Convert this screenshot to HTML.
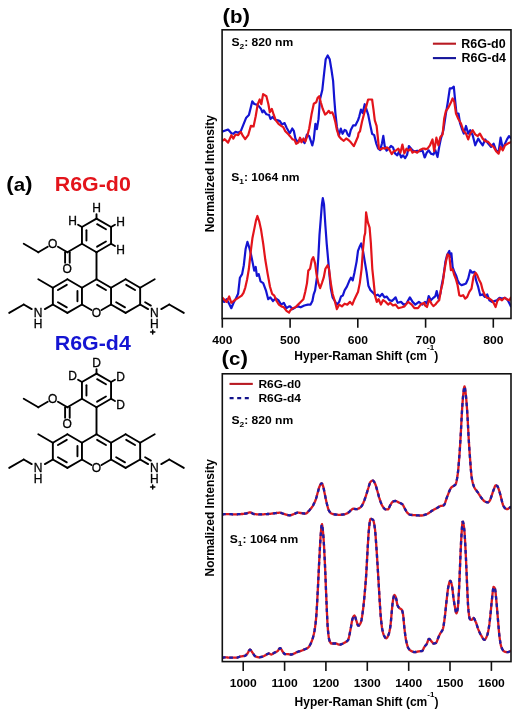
<!DOCTYPE html>
<html><head><meta charset="utf-8"><title>R6G hyper-Raman</title>
<style>
html,body{margin:0;padding:0;background:#fff;}
svg{display:block;font-family:'Liberation Sans', Arial, sans-serif;}
</style></head>
<body><svg width="520" height="715" viewBox="0 0 520 715">
<rect width="520" height="715" fill="#fff"/>
<defs><clipPath id="cb"><rect x="222.1" y="29.8" width="288.9" height="288.7"/></clipPath><clipPath id="cc"><rect x="222.3" y="373.8" width="288.7" height="287.8"/></clipPath></defs><polyline points="222.0,131.8 228.1,129.5 231.4,133.2 233.4,133.8 235.5,131.8 238.2,132.8 240.8,131.2 243.5,124.4 246.2,117.7 248.9,115.0 250.9,106.9 252.3,101.3 254.3,104.0 257.7,104.9 261.0,108.9 262.4,112.3 263.7,110.3 266.4,114.3 269.1,115.0 270.5,119.0 272.5,117.0 275.2,119.7 277.9,120.4 279.9,121.1 281.9,124.4 284.6,123.1 286.6,127.8 289.3,132.5 290.0,133.1 292.3,128.5 293.8,130.8 295.4,138.5 297.7,142.3 300.0,139.2 302.3,140.0 304.6,143.1 306.9,134.6 309.2,136.2 310.8,140.8 312.3,145.4 313.8,139.2 315.4,123.8 316.9,129.2 318.5,119.2 320.0,99.2 322.3,90.0 323.8,76.2 325.7,59.2 327.7,55.4 329.7,59.2 331.5,70.0 333.1,80.8 334.3,99.2 335.4,113.1 336.9,126.9 338.9,135.4 340.8,128.5 342.6,133.8 344.6,130.0 346.2,130.8 347.7,134.6 349.2,136.2 350.8,130.0 353.1,125.4 355.4,125.4 357.7,120.8 358.0,120.4 359.3,116.3 361.0,109.6 362.7,113.0 364.7,104.2 366.3,108.9 368.1,114.3 370.1,124.4 372.1,133.8 374.2,135.2 376.2,143.3 378.2,148.7 380.2,150.0 382.0,143.3 383.3,135.9 384.7,146.0 386.5,150.7 388.7,148.7 391.0,146.0 393.0,147.3 395.0,153.4 397.3,155.4 399.1,151.3 401.1,157.4 403.1,155.4 405.1,158.1 407.1,154.7 408.9,146.0 411.2,148.7 413.2,150.7 415.2,151.3 417.2,150.7 419.9,151.3 422.6,150.7 424.6,157.4 425.0,157.0 426.7,152.7 428.7,150.3 430.9,153.6 433.4,154.5 435.4,150.3 437.5,157.0 439.2,146.9 440.9,138.6 443.4,130.2 445.9,113.5 447.6,103.4 449.8,88.4 451.8,88.4 453.8,86.7 455.1,100.1 456.5,113.5 458.5,113.5 460.1,123.5 461.8,128.5 463.8,133.6 466.0,126.0 468.2,133.6 470.2,130.2 472.7,135.2 475.2,145.3 478.2,138.6 480.2,141.9 482.7,145.3 485.2,139.4 488.2,143.6 491.1,146.9 493.6,143.6 496.1,150.3 498.6,152.0 500.6,137.7 502.8,148.6 505.0,143.6 507.0,139.4 509.0,136.1 511.2,138.6" fill="none" stroke="#1414d2" stroke-width="2.2" stroke-linejoin="round" clip-path="url(#cb)"/><polyline points="222.0,141.2 224.7,139.2 228.1,142.6 231.4,135.2 233.4,138.6 235.5,134.5 238.2,135.2 240.8,131.8 242.9,135.9 245.2,139.2 248.2,135.2 250.9,125.8 253.6,126.4 255.7,116.3 257.7,104.2 259.7,99.5 261.3,104.2 263.1,94.1 266.4,96.2 268.4,104.2 269.8,112.3 271.8,108.9 273.8,115.0 275.8,120.4 278.5,123.8 281.2,125.8 283.2,127.1 285.3,131.2 288.6,134.5 290.0,136.2 292.3,139.2 294.6,140.0 296.2,143.8 298.5,142.3 300.0,137.7 301.5,142.3 303.5,138.5 305.4,141.5 307.2,136.2 309.2,128.5 311.5,114.6 313.8,103.8 316.2,102.3 317.7,97.7 319.2,96.2 320.8,102.3 322.6,108.5 325.1,114.6 326.9,113.1 328.8,110.8 330.3,113.1 332.3,112.3 333.8,116.2 335.4,122.3 336.9,130.0 338.9,136.2 341.5,139.2 343.8,140.8 346.2,138.5 348.5,140.0 350.8,142.3 353.8,146.2 356.2,140.8 358.0,136.5 358.5,133.1 360.0,131.2 362.0,121.7 364.1,113.7 366.1,106.9 368.1,99.5 372.1,99.5 373.5,109.6 374.8,120.4 376.6,125.8 377.9,137.9 378.9,148.7 380.9,149.3 382.9,148.0 384.9,148.7 386.9,147.3 389.2,149.3 391.7,154.0 393.7,151.3 395.7,150.7 398.4,148.7 400.4,152.7 402.4,144.6 404.4,153.4 406.5,148.7 408.5,150.7 410.5,148.7 412.5,152.7 414.5,151.3 417.2,152.7 419.9,150.0 422.6,148.7 425.0,148.6 425.3,149.3 427.5,148.6 430.0,145.3 432.5,139.4 434.2,151.1 436.4,137.7 438.4,145.3 440.4,136.9 442.6,134.4 444.2,118.5 445.9,111.0 448.4,107.6 450.9,102.6 452.6,98.4 454.3,101.8 456.0,113.5 458.5,119.3 461.0,123.5 463.5,131.0 466.0,133.6 468.2,139.4 470.2,133.6 472.7,130.2 475.2,134.4 477.7,136.1 479.9,133.6 482.7,138.6 485.2,141.1 488.2,141.9 491.1,145.3 493.6,146.9 496.1,151.1 498.6,153.6 500.6,146.9 502.8,150.3 505.0,145.3 507.8,143.6 511.2,141.9" fill="none" stroke="#e3141b" stroke-width="2.2" stroke-linejoin="round" clip-path="url(#cb)"/><polyline points="222.0,300.1 224.1,301.9 226.5,299.2 228.8,303.1 231.3,308.2 233.6,302.8 236.0,298.3 238.1,293.8 239.9,277.7 242.1,274.1 243.8,265.2 245.6,249.1 247.4,241.9 249.2,247.3 251.0,254.5 252.8,263.4 254.2,270.6 255.7,267.0 256.9,275.9 258.7,274.1 260.5,281.3 263.2,283.1 265.9,290.3 268.2,299.2 270.3,297.4 273.0,301.0 275.7,298.3 278.4,300.1 281.1,304.6 283.8,302.8 286.5,308.2 289.1,306.4 290.0,306.4 292.7,309.1 295.4,307.3 298.1,306.4 300.7,307.3 304.3,305.5 307.9,304.6 310.6,304.6 312.4,301.0 313.6,294.7 315.1,290.3 316.9,277.7 318.3,258.0 319.5,234.8 320.8,218.6 321.9,204.3 322.8,198.1 324.0,204.3 325.4,225.8 326.7,243.7 328.0,258.0 329.4,274.1 330.8,288.5 332.6,297.4 334.8,301.0 336.9,304.6 339.2,301.9 341.0,296.5 342.8,295.6 344.6,290.3 346.9,286.7 349.1,281.3 350.9,277.7 352.7,280.4 354.5,272.4 356.6,261.6 358.0,250.9 359.4,247.3 361.2,243.4 363.0,250.9 364.8,261.6 366.6,272.4 368.4,285.8 370.5,290.3 373.2,292.9 375.5,295.6 377.7,294.7 379.8,296.5 382.2,293.8 384.5,297.4 386.6,296.5 389.3,300.1 392.0,301.0 395.6,297.4 397.7,302.8 401.0,301.9 403.7,304.6 406.3,303.7 409.9,297.4 412.6,301.9 415.3,304.6 418.9,301.9 422.5,304.6 425.0,301.9 427.0,303.6 428.7,296.1 430.9,300.3 433.4,297.8 435.4,296.1 436.7,291.1 438.4,298.6 440.4,293.6 441.7,285.2 443.4,276.8 445.4,261.8 447.1,255.1 449.3,250.9 450.4,256.8 451.4,253.4 452.6,266.8 454.3,271.8 456.0,275.2 457.6,280.2 459.3,283.5 461.5,285.2 463.8,284.4 466.0,283.5 468.2,278.5 470.2,270.2 472.2,272.7 474.4,271.8 476.0,280.2 478.2,286.9 480.2,295.2 482.7,294.4 484.9,296.9 487.2,294.4 489.4,300.3 491.9,301.9 494.4,301.1 496.9,300.3 499.5,297.8 502.0,298.6 505.0,297.8 507.8,300.3 509.5,303.6 511.2,307.0" fill="none" stroke="#1414d2" stroke-width="2.2" stroke-linejoin="round" clip-path="url(#cb)"/><polyline points="222.0,297.4 224.7,300.1 226.5,301.9 229.2,296.5 231.3,302.8 233.6,301.0 236.3,299.2 239.0,297.4 241.7,295.6 243.5,292.9 245.3,287.6 247.1,279.5 248.9,268.8 250.6,252.7 252.4,238.3 254.2,229.4 256.0,220.4 257.4,216.0 259.2,221.3 261.0,229.4 263.2,243.7 265.3,259.8 267.7,274.1 270.0,286.7 272.1,293.8 274.3,295.6 276.6,301.0 278.9,304.6 281.4,306.4 283.8,307.3 286.5,310.8 289.1,312.6 290.0,310.8 292.7,308.2 295.4,307.3 298.1,304.6 300.7,301.9 303.4,299.2 305.2,292.0 307.0,283.1 308.3,270.6 310.1,268.8 311.8,259.8 313.3,257.1 315.1,263.4 316.5,274.1 318.3,283.1 320.1,288.1 321.9,283.1 323.7,277.7 325.4,268.8 327.6,265.2 329.0,268.8 330.8,283.1 332.6,293.8 334.8,301.0 336.9,309.1 339.2,304.6 341.9,306.4 344.6,303.7 347.3,304.6 350.0,301.9 352.3,304.6 354.5,299.2 357.1,293.8 358.0,292.0 359.8,283.1 361.6,268.8 363.0,249.1 364.3,236.5 365.2,233.0 366.1,212.4 367.8,222.2 369.6,227.6 370.9,243.7 372.3,268.8 373.8,283.1 375.0,295.6 376.8,301.9 378.6,299.2 380.9,304.6 383.1,300.1 385.7,301.9 388.1,304.6 390.2,302.8 392.9,305.5 395.6,304.6 398.3,308.2 401.9,307.3 404.5,306.4 408.1,301.9 411.7,304.6 414.4,308.2 418.0,308.2 420.7,304.6 424.2,302.8 425.0,305.3 427.0,307.0 429.2,299.4 431.4,303.6 433.4,306.1 435.4,304.5 437.5,301.9 439.2,300.3 440.9,290.2 442.6,283.5 444.2,271.8 445.9,261.8 447.6,254.3 449.3,255.9 450.9,270.2 452.6,269.3 454.3,275.2 456.0,279.4 457.6,285.2 459.3,295.2 461.0,296.1 463.1,295.2 465.2,298.6 467.2,296.9 469.3,291.9 471.5,288.6 473.5,276.8 475.5,272.7 477.2,275.2 478.9,279.4 481.0,283.5 482.7,290.2 484.9,295.2 486.9,297.8 489.4,298.6 491.9,300.3 493.9,303.6 495.6,307.0 497.3,301.1 499.5,298.6 502.0,300.3 504.5,297.8 507.0,299.4 509.5,300.3 511.2,296.9" fill="none" stroke="#e3141b" stroke-width="2.2" stroke-linejoin="round" clip-path="url(#cb)"/><polyline points="222.0,514.3 222.5,514.3 223.0,514.3 223.5,514.3 224.0,514.2 224.5,514.2 225.0,514.2 225.5,514.2 226.0,514.2 226.5,514.2 227.0,514.2 227.5,514.2 228.0,514.2 228.5,514.2 229.0,514.2 229.5,514.2 230.0,514.2 230.5,514.2 231.0,514.2 231.5,514.2 232.0,514.3 232.5,514.3 233.0,514.3 233.5,514.3 234.0,514.3 234.5,514.3 235.0,514.3 235.5,514.3 236.0,514.3 236.5,514.3 237.0,514.3 237.5,514.3 238.0,514.2 238.5,514.2 239.0,514.2 239.5,514.2 240.0,514.1 240.5,514.1 241.0,514.1 241.5,514.0 242.0,514.0 242.5,514.0 243.0,513.9 243.5,513.9 244.0,513.8 244.5,513.7 245.0,513.7 245.5,513.6 246.0,513.5 246.5,513.4 247.0,513.2 247.5,513.1 248.0,512.9 248.5,512.7 249.0,512.5 249.5,512.4 250.0,512.4 250.5,512.5 251.0,512.6 251.5,512.9 252.0,513.1 252.5,513.4 253.0,513.7 253.5,513.9 254.0,514.0 254.5,514.1 255.0,514.1 255.5,514.2 256.0,514.2 256.5,514.3 257.0,514.3 257.5,514.3 258.0,514.3 258.5,514.4 259.0,514.4 259.5,514.4 260.0,514.4 260.5,514.4 261.0,514.4 261.5,514.4 262.0,514.4 262.5,514.3 263.0,514.3 263.5,514.3 264.0,514.3 264.5,514.2 265.0,514.2 265.5,514.2 266.0,514.1 266.5,514.1 267.0,514.1 267.5,514.0 268.0,514.0 268.5,514.0 269.0,513.9 269.5,513.9 270.0,513.8 270.5,513.8 271.0,513.7 271.5,513.6 272.0,513.6 272.5,513.5 273.0,513.4 273.5,513.4 274.0,513.3 274.5,513.3 275.0,513.2 275.5,513.1 276.0,513.1 276.5,513.0 277.0,512.9 277.5,512.9 278.0,512.8 278.5,512.8 279.0,512.7 279.5,512.7 280.0,512.7 280.5,512.8 281.0,512.9 281.5,513.1 282.0,513.3 282.5,513.5 283.0,513.7 283.5,513.8 284.0,514.0 284.5,514.1 285.0,514.3 285.5,514.4 286.0,514.6 286.5,514.7 287.0,514.9 287.5,515.0 288.0,515.1 288.5,515.2 289.0,515.3 289.5,515.3 290.0,515.3 290.5,515.2 291.0,515.1 291.5,514.9 292.0,514.8 292.5,514.6 293.0,514.4 293.5,514.2 294.0,514.0 294.5,513.8 295.0,513.6 295.5,513.4 296.0,513.1 296.5,512.9 297.0,512.8 297.5,512.6 298.0,512.6 298.5,512.6 299.0,512.7 299.5,512.8 300.0,512.9 300.5,513.0 301.0,513.0 301.5,513.1 302.0,513.2 302.5,513.3 303.0,513.4 303.5,513.4 304.0,513.5 304.5,513.5 305.0,513.6 305.5,513.6 306.0,513.6 306.5,513.3 307.0,512.9 307.5,512.4 308.0,511.8 308.5,511.2 309.0,510.7 309.5,510.2 310.0,509.6 310.5,509.0 311.0,508.4 311.5,507.8 312.0,507.0 312.5,506.3 313.0,505.5 313.5,504.6 314.0,503.6 314.5,502.6 315.0,501.5 315.5,500.3 316.0,498.8 316.5,497.1 317.0,495.2 317.5,493.3 318.0,491.6 318.5,489.7 319.0,487.9 319.5,486.4 320.0,485.4 320.5,484.5 321.0,483.7 321.5,483.3 322.0,483.5 322.5,484.5 323.0,485.9 323.5,487.6 324.0,490.1 324.5,492.7 325.0,495.1 325.5,497.6 326.0,500.0 326.5,502.3 327.0,504.3 327.5,506.3 328.0,508.2 328.5,509.7 329.0,510.8 329.5,511.6 330.0,512.2 330.5,512.8 331.0,513.2 331.5,513.5 332.0,513.7 332.5,513.9 333.0,514.0 333.5,514.2 334.0,514.3 334.5,514.4 335.0,514.5 335.5,514.5 336.0,514.6 336.5,514.6 337.0,514.7 337.5,514.7 338.0,514.8 338.5,514.8 339.0,514.8 339.5,514.8 340.0,514.8 340.5,514.8 341.0,514.7 341.5,514.7 342.0,514.6 342.5,514.6 343.0,514.5 343.5,514.4 344.0,514.4 344.5,514.3 345.0,514.2 345.5,514.0 346.0,513.8 346.5,513.6 347.0,513.4 347.5,513.2 348.0,512.9 348.5,512.5 349.0,512.0 349.5,511.6 350.0,511.1 350.5,510.6 351.0,510.2 351.5,509.8 352.0,509.3 352.5,508.9 353.0,508.7 353.5,508.7 354.0,508.8 354.5,508.9 355.0,509.0 355.5,509.1 356.0,509.2 356.5,509.2 357.0,509.1 357.5,509.0 358.0,508.8 358.5,508.6 359.0,508.4 359.5,508.1 360.0,507.7 360.5,507.3 361.0,506.8 361.5,506.3 362.0,505.5 362.5,504.6 363.0,503.5 363.5,502.4 364.0,501.2 364.5,499.9 365.0,498.5 365.5,497.1 366.0,495.6 366.5,494.0 367.0,492.4 367.5,490.7 368.0,489.0 368.5,487.5 369.0,485.8 369.5,484.1 370.0,482.7 370.5,481.8 371.0,481.4 371.5,481.1 372.0,480.8 372.5,480.6 373.0,480.6 373.5,480.9 374.0,481.6 374.5,482.6 375.0,483.6 375.5,484.7 376.0,486.2 376.5,487.9 377.0,489.7 377.5,491.5 378.0,493.3 378.5,495.1 379.0,497.0 379.5,498.7 380.0,500.2 380.5,501.6 381.0,502.9 381.5,504.2 382.0,505.3 382.5,506.2 383.0,506.9 383.5,507.6 384.0,508.3 384.5,508.8 385.0,509.2 385.5,509.4 386.0,509.4 386.5,509.4 387.0,509.4 387.5,509.4 388.0,509.4 388.5,508.9 389.0,508.0 389.5,506.8 390.0,505.8 390.5,504.9 391.0,504.0 391.5,503.1 392.0,502.3 392.5,501.9 393.0,501.6 393.5,501.4 394.0,501.2 394.5,501.1 395.0,501.0 395.5,501.0 396.0,501.1 396.5,501.3 397.0,501.5 397.5,501.8 398.0,502.1 398.5,502.4 399.0,502.6 399.5,502.8 400.0,503.0 400.5,503.2 401.0,503.4 401.5,503.7 402.0,504.0 402.5,504.4 403.0,505.1 403.5,506.1 404.0,507.1 404.5,508.1 405.0,509.0 405.5,509.9 406.0,510.8 406.5,511.6 407.0,512.3 407.5,512.9 408.0,513.4 408.5,513.8 409.0,514.2 409.5,514.5 410.0,514.7 410.5,514.8 411.0,514.9 411.5,514.9 412.0,515.0 412.5,515.0 413.0,515.1 413.5,515.1 414.0,515.1 414.5,515.2 415.0,515.2 415.5,515.2 416.0,515.3 416.5,515.3 417.0,515.3 417.5,515.4 418.0,515.4 418.5,515.4 419.0,515.4 419.5,515.5 420.0,515.5 420.5,515.5 421.0,515.5 421.5,515.5 422.0,515.5 422.5,515.4 423.0,515.3 423.5,515.2 424.0,515.0 424.5,514.9 425.0,514.7 425.5,514.6 426.0,514.4 426.5,514.2 427.0,514.0 427.5,513.8 428.0,513.5 428.5,513.2 429.0,512.9 429.5,512.5 430.0,512.2 430.5,511.8 431.0,511.4 431.5,511.1 432.0,510.7 432.5,510.4 433.0,510.2 433.5,509.9 434.0,509.6 434.5,509.3 435.0,509.1 435.5,508.8 436.0,508.6 436.5,508.3 437.0,508.0 437.5,507.7 438.0,507.4 438.5,507.0 439.0,506.7 439.5,506.4 440.0,506.2 440.5,506.0 441.0,505.9 441.5,505.9 442.0,505.8 442.5,505.7 443.0,505.6 443.5,505.4 444.0,505.1 444.5,504.3 445.0,503.1 445.5,501.7 446.0,500.2 446.5,498.6 447.0,497.1 447.5,495.9 448.0,494.6 448.5,493.3 449.0,492.0 449.5,490.8 450.0,489.7 450.5,488.7 451.0,487.9 451.5,487.4 452.0,486.9 452.5,486.6 453.0,486.3 453.5,486.1 454.0,485.8 454.5,485.4 455.0,485.0 455.5,484.4 456.0,483.4 456.5,481.5 457.0,478.9 457.5,475.8 458.0,471.8 458.5,466.6 459.0,460.6 459.5,454.2 460.0,446.8 460.5,438.5 461.0,429.8 461.5,420.1 462.0,411.0 462.5,403.4 463.0,396.8 463.5,392.0 464.0,388.1 464.5,386.3 465.0,388.1 465.5,392.0 466.0,396.4 466.5,402.0 467.0,408.7 467.5,416.3 468.0,425.8 468.5,435.3 469.0,443.4 469.5,451.0 470.0,457.9 470.5,464.5 471.0,471.0 471.5,476.2 472.0,479.3 472.5,481.7 473.0,483.8 473.5,485.4 474.0,486.7 474.5,487.7 475.0,488.6 475.5,489.4 476.0,490.0 476.5,490.7 477.0,491.3 477.5,492.0 478.0,492.7 478.5,493.5 479.0,494.3 479.5,495.0 480.0,495.8 480.5,496.5 481.0,497.3 481.5,498.0 482.0,498.7 482.5,499.3 483.0,499.8 483.5,500.4 484.0,500.9 484.5,501.3 485.0,501.6 485.5,501.8 486.0,502.0 486.5,502.2 487.0,502.3 487.5,502.4 488.0,502.4 488.5,502.1 489.0,501.7 489.5,501.1 490.0,500.4 490.5,499.2 491.0,497.7 491.5,496.1 492.0,494.6 492.5,493.1 493.0,491.5 493.5,490.1 494.0,488.8 494.5,487.4 495.0,486.2 495.5,485.5 496.0,485.4 496.5,485.5 497.0,485.7 497.5,486.3 498.0,487.4 498.5,488.7 499.0,490.1 499.5,491.7 500.0,493.5 500.5,495.3 501.0,497.4 501.5,499.4 502.0,501.5 502.5,503.5 503.0,504.9 503.5,506.0 504.0,506.9 504.5,507.6 505.0,508.1 505.5,508.5 506.0,508.8 506.5,509.1 507.0,509.2 507.5,509.1 508.0,508.9 508.5,508.6 509.0,508.2 509.5,507.8 510.0,507.5 510.5,507.0 511.0,506.6" fill="none" stroke="#d81a20" stroke-width="2.3" stroke-linejoin="round" clip-path="url(#cc)"/><polyline points="222.0,514.3 222.5,514.3 223.0,514.3 223.5,514.3 224.0,514.2 224.5,514.2 225.0,514.2 225.5,514.2 226.0,514.2 226.5,514.2 227.0,514.2 227.5,514.2 228.0,514.2 228.5,514.2 229.0,514.2 229.5,514.2 230.0,514.2 230.5,514.2 231.0,514.2 231.5,514.2 232.0,514.3 232.5,514.3 233.0,514.3 233.5,514.3 234.0,514.3 234.5,514.3 235.0,514.3 235.5,514.3 236.0,514.3 236.5,514.3 237.0,514.3 237.5,514.3 238.0,514.2 238.5,514.2 239.0,514.2 239.5,514.2 240.0,514.1 240.5,514.1 241.0,514.1 241.5,514.0 242.0,514.0 242.5,514.0 243.0,513.9 243.5,513.9 244.0,513.8 244.5,513.7 245.0,513.7 245.5,513.6 246.0,513.5 246.5,513.4 247.0,513.2 247.5,513.1 248.0,512.9 248.5,512.7 249.0,512.5 249.5,512.4 250.0,512.4 250.5,512.5 251.0,512.6 251.5,512.9 252.0,513.1 252.5,513.4 253.0,513.7 253.5,513.9 254.0,514.0 254.5,514.1 255.0,514.1 255.5,514.2 256.0,514.2 256.5,514.3 257.0,514.3 257.5,514.3 258.0,514.3 258.5,514.4 259.0,514.4 259.5,514.4 260.0,514.4 260.5,514.4 261.0,514.4 261.5,514.4 262.0,514.4 262.5,514.3 263.0,514.3 263.5,514.3 264.0,514.3 264.5,514.2 265.0,514.2 265.5,514.2 266.0,514.1 266.5,514.1 267.0,514.1 267.5,514.0 268.0,514.0 268.5,514.0 269.0,513.9 269.5,513.9 270.0,513.8 270.5,513.8 271.0,513.7 271.5,513.6 272.0,513.6 272.5,513.5 273.0,513.4 273.5,513.4 274.0,513.3 274.5,513.3 275.0,513.2 275.5,513.1 276.0,513.1 276.5,513.0 277.0,512.9 277.5,512.9 278.0,512.8 278.5,512.8 279.0,512.7 279.5,512.7 280.0,512.7 280.5,512.8 281.0,512.9 281.5,513.1 282.0,513.3 282.5,513.5 283.0,513.7 283.5,513.8 284.0,514.0 284.5,514.1 285.0,514.3 285.5,514.4 286.0,514.6 286.5,514.7 287.0,514.9 287.5,515.0 288.0,515.1 288.5,515.2 289.0,515.3 289.5,515.3 290.0,515.3 290.5,515.2 291.0,515.1 291.5,514.9 292.0,514.8 292.5,514.6 293.0,514.4 293.5,514.2 294.0,514.0 294.5,513.8 295.0,513.6 295.5,513.4 296.0,513.1 296.5,512.9 297.0,512.8 297.5,512.6 298.0,512.6 298.5,512.6 299.0,512.7 299.5,512.8 300.0,512.9 300.5,513.0 301.0,513.0 301.5,513.1 302.0,513.2 302.5,513.3 303.0,513.4 303.5,513.4 304.0,513.5 304.5,513.5 305.0,513.6 305.5,513.6 306.0,513.6 306.5,513.3 307.0,512.9 307.5,512.4 308.0,511.8 308.5,511.2 309.0,510.7 309.5,510.2 310.0,509.6 310.5,509.0 311.0,508.4 311.5,507.8 312.0,507.0 312.5,506.3 313.0,505.5 313.5,504.6 314.0,503.6 314.5,502.6 315.0,501.5 315.5,500.3 316.0,498.8 316.5,497.1 317.0,495.2 317.5,493.3 318.0,491.6 318.5,489.7 319.0,487.9 319.5,486.4 320.0,485.4 320.5,484.5 321.0,483.7 321.5,483.3 322.0,483.5 322.5,484.5 323.0,485.9 323.5,487.6 324.0,490.1 324.5,492.7 325.0,495.1 325.5,497.6 326.0,500.0 326.5,502.3 327.0,504.3 327.5,506.3 328.0,508.2 328.5,509.7 329.0,510.8 329.5,511.6 330.0,512.2 330.5,512.8 331.0,513.2 331.5,513.5 332.0,513.7 332.5,513.9 333.0,514.0 333.5,514.2 334.0,514.3 334.5,514.4 335.0,514.5 335.5,514.5 336.0,514.6 336.5,514.6 337.0,514.7 337.5,514.7 338.0,514.8 338.5,514.8 339.0,514.8 339.5,514.8 340.0,514.8 340.5,514.8 341.0,514.7 341.5,514.7 342.0,514.6 342.5,514.6 343.0,514.5 343.5,514.4 344.0,514.4 344.5,514.3 345.0,514.2 345.5,514.0 346.0,513.8 346.5,513.6 347.0,513.4 347.5,513.2 348.0,512.9 348.5,512.5 349.0,512.0 349.5,511.6 350.0,511.1 350.5,510.6 351.0,510.2 351.5,509.8 352.0,509.3 352.5,508.9 353.0,508.7 353.5,508.7 354.0,508.8 354.5,508.9 355.0,509.0 355.5,509.1 356.0,509.2 356.5,509.2 357.0,509.1 357.5,509.0 358.0,508.8 358.5,508.6 359.0,508.4 359.5,508.1 360.0,507.7 360.5,507.3 361.0,506.8 361.5,506.3 362.0,505.5 362.5,504.6 363.0,503.5 363.5,502.4 364.0,501.2 364.5,499.9 365.0,498.5 365.5,497.1 366.0,495.6 366.5,494.0 367.0,492.4 367.5,490.7 368.0,489.0 368.5,487.5 369.0,485.8 369.5,484.1 370.0,482.7 370.5,481.8 371.0,481.4 371.5,481.1 372.0,480.8 372.5,480.6 373.0,480.6 373.5,480.9 374.0,481.6 374.5,482.6 375.0,483.6 375.5,484.7 376.0,486.2 376.5,487.9 377.0,489.7 377.5,491.5 378.0,493.3 378.5,495.1 379.0,497.0 379.5,498.7 380.0,500.2 380.5,501.6 381.0,502.9 381.5,504.2 382.0,505.3 382.5,506.2 383.0,506.9 383.5,507.6 384.0,508.3 384.5,508.8 385.0,509.2 385.5,509.4 386.0,509.4 386.5,509.4 387.0,509.4 387.5,509.4 388.0,509.4 388.5,508.9 389.0,508.0 389.5,506.8 390.0,505.8 390.5,504.9 391.0,504.0 391.5,503.1 392.0,502.3 392.5,501.9 393.0,501.6 393.5,501.4 394.0,501.2 394.5,501.1 395.0,501.0 395.5,501.0 396.0,501.1 396.5,501.3 397.0,501.5 397.5,501.8 398.0,502.1 398.5,502.4 399.0,502.6 399.5,502.8 400.0,503.0 400.5,503.2 401.0,503.4 401.5,503.7 402.0,504.0 402.5,504.4 403.0,505.1 403.5,506.1 404.0,507.1 404.5,508.1 405.0,509.0 405.5,509.9 406.0,510.8 406.5,511.6 407.0,512.3 407.5,512.9 408.0,513.4 408.5,513.8 409.0,514.2 409.5,514.5 410.0,514.7 410.5,514.8 411.0,514.9 411.5,514.9 412.0,515.0 412.5,515.0 413.0,515.1 413.5,515.1 414.0,515.1 414.5,515.2 415.0,515.2 415.5,515.2 416.0,515.3 416.5,515.3 417.0,515.3 417.5,515.4 418.0,515.4 418.5,515.4 419.0,515.4 419.5,515.5 420.0,515.5 420.5,515.5 421.0,515.5 421.5,515.5 422.0,515.5 422.5,515.4 423.0,515.3 423.5,515.2 424.0,515.0 424.5,514.9 425.0,514.7 425.5,514.6 426.0,514.4 426.5,514.2 427.0,514.0 427.5,513.8 428.0,513.5 428.5,513.2 429.0,512.9 429.5,512.5 430.0,512.2 430.5,511.8 431.0,511.4 431.5,511.1 432.0,510.7 432.5,510.4 433.0,510.2 433.5,509.9 434.0,509.6 434.5,509.3 435.0,509.1 435.5,508.8 436.0,508.6 436.5,508.3 437.0,508.0 437.5,507.7 438.0,507.4 438.5,507.0 439.0,506.7 439.5,506.4 440.0,506.2 440.5,506.0 441.0,505.9 441.5,505.9 442.0,505.8 442.5,505.7 443.0,505.6 443.5,505.4 444.0,505.1 444.5,504.3 445.0,503.1 445.5,501.7 446.0,500.2 446.5,498.6 447.0,497.1 447.5,495.9 448.0,494.6 448.5,493.3 449.0,492.0 449.5,490.8 450.0,489.7 450.5,488.7 451.0,487.9 451.5,487.4 452.0,486.9 452.5,486.6 453.0,486.3 453.5,486.1 454.0,485.8 454.5,485.4 455.0,485.0 455.5,484.4 456.0,483.4 456.5,481.5 457.0,478.9 457.5,475.8 458.0,471.8 458.5,466.6 459.0,460.6 459.5,454.2 460.0,446.8 460.5,438.5 461.0,429.8 461.5,420.1 462.0,411.0 462.5,403.4 463.0,396.8 463.5,392.0 464.0,388.1 464.5,386.3 465.0,388.1 465.5,392.0 466.0,396.4 466.5,402.0 467.0,408.7 467.5,416.3 468.0,425.8 468.5,435.3 469.0,443.4 469.5,451.0 470.0,457.9 470.5,464.5 471.0,471.0 471.5,476.2 472.0,479.3 472.5,481.7 473.0,483.8 473.5,485.4 474.0,486.7 474.5,487.7 475.0,488.6 475.5,489.4 476.0,490.0 476.5,490.7 477.0,491.3 477.5,492.0 478.0,492.7 478.5,493.5 479.0,494.3 479.5,495.0 480.0,495.8 480.5,496.5 481.0,497.3 481.5,498.0 482.0,498.7 482.5,499.3 483.0,499.8 483.5,500.4 484.0,500.9 484.5,501.3 485.0,501.6 485.5,501.8 486.0,502.0 486.5,502.2 487.0,502.3 487.5,502.4 488.0,502.4 488.5,502.1 489.0,501.7 489.5,501.1 490.0,500.4 490.5,499.2 491.0,497.7 491.5,496.1 492.0,494.6 492.5,493.1 493.0,491.5 493.5,490.1 494.0,488.8 494.5,487.4 495.0,486.2 495.5,485.5 496.0,485.4 496.5,485.5 497.0,485.7 497.5,486.3 498.0,487.4 498.5,488.7 499.0,490.1 499.5,491.7 500.0,493.5 500.5,495.3 501.0,497.4 501.5,499.4 502.0,501.5 502.5,503.5 503.0,504.9 503.5,506.0 504.0,506.9 504.5,507.6 505.0,508.1 505.5,508.5 506.0,508.8 506.5,509.1 507.0,509.2 507.5,509.1 508.0,508.9 508.5,508.6 509.0,508.2 509.5,507.8 510.0,507.5 510.5,507.0 511.0,506.6" fill="none" stroke="#1c1ca8" stroke-width="2.3" stroke-linejoin="round" stroke-dasharray="3.7,3.7" clip-path="url(#cc)"/><polyline points="222.0,658.1 222.5,657.9 223.0,657.7 223.5,657.6 224.0,657.4 224.5,657.3 225.0,657.3 225.5,657.3 226.0,657.3 226.5,657.4 227.0,657.4 227.5,657.5 228.0,657.6 228.5,657.6 229.0,657.6 229.5,657.6 230.0,657.6 230.5,657.6 231.0,657.6 231.5,657.6 232.0,657.6 232.5,657.6 233.0,657.6 233.5,657.6 234.0,657.6 234.5,657.6 235.0,657.6 235.5,657.6 236.0,657.6 236.5,657.6 237.0,657.6 237.5,657.5 238.0,657.3 238.5,657.2 239.0,657.0 239.5,656.8 240.0,656.6 240.5,656.5 241.0,656.4 241.5,656.3 242.0,656.3 242.5,656.2 243.0,656.2 243.5,656.1 244.0,656.0 244.5,655.9 245.0,655.8 245.5,655.6 246.0,655.2 246.5,654.6 247.0,654.0 247.5,653.4 248.0,652.5 248.5,651.6 249.0,650.6 249.5,649.9 250.0,649.6 250.5,649.8 251.0,650.4 251.5,651.1 252.0,652.0 252.5,652.7 253.0,653.4 253.5,654.2 254.0,655.0 254.5,655.7 255.0,656.1 255.5,656.4 256.0,656.6 256.5,656.8 257.0,657.0 257.5,657.1 258.0,657.2 258.5,657.3 259.0,657.3 259.5,657.3 260.0,657.2 260.5,657.1 261.0,657.0 261.5,656.9 262.0,656.7 262.5,656.6 263.0,656.4 263.5,656.2 264.0,656.0 264.5,655.7 265.0,655.4 265.5,655.2 266.0,654.9 266.5,654.6 267.0,654.3 267.5,654.0 268.0,653.7 268.5,653.5 269.0,653.5 269.5,653.7 270.0,654.0 270.5,654.3 271.0,654.5 271.5,654.5 272.0,654.3 272.5,654.0 273.0,653.6 273.5,653.2 274.0,652.9 274.5,652.6 275.0,652.4 275.5,652.2 276.0,651.9 276.5,651.7 277.0,651.5 277.5,651.1 278.0,650.6 278.5,649.9 279.0,649.1 279.5,648.5 280.0,648.1 280.5,648.2 281.0,648.8 281.5,649.6 282.0,650.6 282.5,651.5 283.0,652.1 283.5,652.8 284.0,653.4 284.5,653.9 285.0,654.2 285.5,654.2 286.0,654.2 286.5,654.2 287.0,654.2 287.5,654.2 288.0,654.2 288.5,654.2 289.0,654.3 289.5,654.3 290.0,654.4 290.5,654.5 291.0,654.5 291.5,654.5 292.0,654.4 292.5,654.2 293.0,654.1 293.5,653.8 294.0,653.6 294.5,653.4 295.0,653.2 295.5,652.9 296.0,652.6 296.5,652.3 297.0,652.1 297.5,651.9 298.0,651.7 298.5,651.5 299.0,651.4 299.5,651.3 300.0,651.2 300.5,651.0 301.0,650.9 301.5,650.7 302.0,650.5 302.5,650.3 303.0,650.1 303.5,649.9 304.0,649.6 304.5,649.4 305.0,649.2 305.5,649.0 306.0,648.8 306.5,648.6 307.0,648.4 307.5,648.1 308.0,647.8 308.5,647.3 309.0,646.7 309.5,646.0 310.0,645.0 310.5,644.0 311.0,642.9 311.5,641.8 312.0,640.5 312.5,639.0 313.0,637.4 313.5,635.5 314.0,633.3 314.5,630.8 315.0,627.7 315.5,623.9 316.0,619.3 316.5,613.7 317.0,605.4 317.5,595.7 318.0,586.1 318.5,575.7 319.0,565.3 319.5,555.7 320.0,546.2 320.5,537.8 321.0,531.4 321.5,525.9 322.0,524.2 322.5,526.9 323.0,531.9 323.5,537.6 324.0,545.5 324.5,555.2 325.0,565.6 325.5,577.4 326.0,590.3 326.5,602.3 327.0,613.9 327.5,624.1 328.0,630.6 328.5,635.3 329.0,638.9 329.5,640.8 330.0,641.9 330.5,642.8 331.0,643.4 331.5,643.5 332.0,643.5 332.5,643.5 333.0,643.5 333.5,643.5 334.0,643.5 334.5,643.5 335.0,643.5 335.5,643.5 336.0,643.5 336.5,643.7 337.0,643.8 337.5,644.1 338.0,644.3 338.5,644.4 339.0,644.6 339.5,644.6 340.0,644.6 340.5,644.5 341.0,644.4 341.5,644.2 342.0,644.0 342.5,643.7 343.0,643.5 343.5,643.2 344.0,642.9 344.5,642.7 345.0,642.4 345.5,642.1 346.0,641.9 346.5,641.6 347.0,641.3 347.5,640.8 348.0,640.3 348.5,639.0 349.0,637.1 349.5,634.7 350.0,632.1 350.5,629.6 351.0,626.9 351.5,623.7 352.0,620.9 352.5,618.9 353.0,617.6 353.5,616.5 354.0,615.7 354.5,615.5 355.0,616.3 355.5,617.8 356.0,619.6 356.5,621.1 357.0,622.7 357.5,624.3 358.0,625.5 358.5,625.7 359.0,625.4 359.5,624.8 360.0,624.1 360.5,623.2 361.0,622.0 361.5,619.9 362.0,617.0 362.5,613.6 363.0,610.0 363.5,605.8 364.0,600.9 364.5,595.5 365.0,590.0 365.5,584.1 366.0,577.6 366.5,569.8 367.0,560.4 367.5,551.2 368.0,542.5 368.5,534.4 369.0,528.7 369.5,524.0 370.0,520.4 370.5,518.9 371.0,518.9 371.5,519.0 372.0,519.2 372.5,519.5 373.0,519.8 373.5,520.8 374.0,522.9 374.5,525.8 375.0,529.2 375.5,534.7 376.0,541.6 376.5,548.7 377.0,556.2 377.5,564.3 378.0,572.4 378.5,580.9 379.0,589.5 379.5,597.7 380.0,606.0 380.5,613.5 381.0,619.1 381.5,624.0 382.0,627.9 382.5,630.6 383.0,632.7 383.5,634.4 384.0,635.6 384.5,636.5 385.0,637.3 385.5,637.9 386.0,638.2 386.5,638.3 387.0,637.8 387.5,637.0 388.0,635.9 388.5,634.7 389.0,633.3 389.5,631.3 390.0,628.7 390.5,625.5 391.0,620.3 391.5,614.6 392.0,609.1 392.5,603.8 393.0,600.2 393.5,597.6 394.0,595.6 394.5,595.0 395.0,595.5 395.5,596.5 396.0,597.9 396.5,600.0 397.0,603.4 397.5,605.3 398.0,606.3 398.5,607.1 399.0,607.7 399.5,608.2 400.0,608.5 400.5,608.8 401.0,609.1 401.5,609.5 402.0,610.2 402.5,611.7 403.0,614.0 403.5,618.2 404.0,624.2 404.5,628.9 405.0,633.2 405.5,637.0 406.0,640.0 406.5,642.3 407.0,644.4 407.5,646.2 408.0,647.5 408.5,648.4 409.0,649.1 409.5,649.7 410.0,650.2 410.5,650.6 411.0,650.9 411.5,651.1 412.0,651.4 412.5,651.6 413.0,651.8 413.5,651.9 414.0,652.1 414.5,652.1 415.0,652.1 415.5,652.0 416.0,652.0 416.5,651.9 417.0,651.8 417.5,651.6 418.0,651.5 418.5,651.4 419.0,651.3 419.5,651.3 420.0,651.2 420.5,651.2 421.0,651.1 421.5,651.1 422.0,651.0 422.5,650.7 423.0,649.9 423.5,648.7 424.0,647.6 424.5,646.8 425.0,646.1 425.5,645.5 426.0,645.0 426.5,644.3 427.0,643.4 427.5,642.0 428.0,640.5 428.5,639.3 429.0,638.8 429.5,639.0 430.0,639.5 430.5,640.2 431.0,640.9 431.5,641.4 432.0,642.0 432.5,642.6 433.0,643.2 433.5,643.5 434.0,643.5 434.5,643.4 435.0,643.3 435.5,643.1 436.0,642.9 436.5,642.3 437.0,641.2 437.5,639.8 438.0,638.4 438.5,637.2 439.0,636.1 439.5,634.9 440.0,633.9 440.5,633.0 441.0,632.4 441.5,631.7 442.0,630.9 442.5,629.9 443.0,628.6 443.5,626.2 444.0,623.0 444.5,619.5 445.0,615.6 445.5,610.9 446.0,605.9 446.5,601.3 447.0,596.9 447.5,592.5 448.0,588.6 448.5,586.0 449.0,583.8 449.5,581.9 450.0,580.9 450.5,581.0 451.0,582.1 451.5,583.8 452.0,585.9 452.5,589.2 453.0,594.1 453.5,598.3 454.0,601.7 454.5,604.7 455.0,607.4 455.5,610.3 456.0,612.7 456.5,613.4 457.0,612.2 457.5,609.8 458.0,606.1 458.5,599.0 459.0,590.1 459.5,579.0 460.0,566.4 460.5,554.8 461.0,543.4 461.5,534.7 462.0,527.0 462.5,521.9 463.0,521.7 463.5,523.9 464.0,527.2 464.5,531.8 465.0,539.5 465.5,549.0 466.0,559.2 466.5,571.1 467.0,582.7 467.5,594.1 468.0,604.5 468.5,610.7 469.0,615.2 469.5,618.2 470.0,619.2 470.5,619.6 471.0,619.8 471.5,619.9 472.0,619.7 472.5,619.0 473.0,618.3 473.5,618.0 474.0,618.3 474.5,619.1 475.0,620.2 475.5,621.4 476.0,622.5 476.5,623.9 477.0,625.5 477.5,627.1 478.0,628.6 478.5,629.9 479.0,631.1 479.5,632.2 480.0,633.2 480.5,634.2 481.0,635.1 481.5,635.9 482.0,636.9 482.5,637.8 483.0,638.6 483.5,639.3 484.0,639.7 484.5,639.8 485.0,639.5 485.5,638.8 486.0,638.0 486.5,636.9 487.0,635.7 487.5,634.4 488.0,632.4 488.5,629.8 489.0,626.7 489.5,623.2 490.0,618.9 490.5,614.2 491.0,609.1 491.5,603.7 492.0,598.8 492.5,594.0 493.0,589.5 493.5,587.0 494.0,587.1 494.5,587.7 495.0,588.7 495.5,591.6 496.0,596.8 496.5,602.1 497.0,607.9 497.5,614.1 498.0,620.1 498.5,626.2 499.0,632.1 499.5,636.8 500.0,640.3 500.5,643.4 501.0,645.9 501.5,647.5 502.0,648.6 502.5,649.5 503.0,650.3 503.5,650.9 504.0,651.3 504.5,651.6 505.0,651.8 505.5,651.9 506.0,652.0 506.5,652.1 507.0,652.2 507.5,652.2 508.0,652.2 508.5,652.0 509.0,651.8 509.5,651.5 510.0,651.2 510.5,650.8 511.0,650.4" fill="none" stroke="#d81a20" stroke-width="2.3" stroke-linejoin="round" clip-path="url(#cc)"/><polyline points="222.0,658.1 222.5,657.9 223.0,657.7 223.5,657.6 224.0,657.4 224.5,657.3 225.0,657.3 225.5,657.3 226.0,657.3 226.5,657.4 227.0,657.4 227.5,657.5 228.0,657.6 228.5,657.6 229.0,657.6 229.5,657.6 230.0,657.6 230.5,657.6 231.0,657.6 231.5,657.6 232.0,657.6 232.5,657.6 233.0,657.6 233.5,657.6 234.0,657.6 234.5,657.6 235.0,657.6 235.5,657.6 236.0,657.6 236.5,657.6 237.0,657.6 237.5,657.5 238.0,657.3 238.5,657.2 239.0,657.0 239.5,656.8 240.0,656.6 240.5,656.5 241.0,656.4 241.5,656.3 242.0,656.3 242.5,656.2 243.0,656.2 243.5,656.1 244.0,656.0 244.5,655.9 245.0,655.8 245.5,655.6 246.0,655.2 246.5,654.6 247.0,654.0 247.5,653.4 248.0,652.5 248.5,651.6 249.0,650.6 249.5,649.9 250.0,649.6 250.5,649.8 251.0,650.4 251.5,651.1 252.0,652.0 252.5,652.7 253.0,653.4 253.5,654.2 254.0,655.0 254.5,655.7 255.0,656.1 255.5,656.4 256.0,656.6 256.5,656.8 257.0,657.0 257.5,657.1 258.0,657.2 258.5,657.3 259.0,657.3 259.5,657.3 260.0,657.2 260.5,657.1 261.0,657.0 261.5,656.9 262.0,656.7 262.5,656.6 263.0,656.4 263.5,656.2 264.0,656.0 264.5,655.7 265.0,655.4 265.5,655.2 266.0,654.9 266.5,654.6 267.0,654.3 267.5,654.0 268.0,653.7 268.5,653.5 269.0,653.5 269.5,653.7 270.0,654.0 270.5,654.3 271.0,654.5 271.5,654.5 272.0,654.3 272.5,654.0 273.0,653.6 273.5,653.2 274.0,652.9 274.5,652.6 275.0,652.4 275.5,652.2 276.0,651.9 276.5,651.7 277.0,651.5 277.5,651.1 278.0,650.6 278.5,649.9 279.0,649.1 279.5,648.5 280.0,648.1 280.5,648.2 281.0,648.8 281.5,649.6 282.0,650.6 282.5,651.5 283.0,652.1 283.5,652.8 284.0,653.4 284.5,653.9 285.0,654.2 285.5,654.2 286.0,654.2 286.5,654.2 287.0,654.2 287.5,654.2 288.0,654.2 288.5,654.2 289.0,654.3 289.5,654.3 290.0,654.4 290.5,654.5 291.0,654.5 291.5,654.5 292.0,654.4 292.5,654.2 293.0,654.1 293.5,653.8 294.0,653.6 294.5,653.4 295.0,653.2 295.5,652.9 296.0,652.6 296.5,652.3 297.0,652.1 297.5,651.9 298.0,651.7 298.5,651.5 299.0,651.4 299.5,651.3 300.0,651.2 300.5,651.0 301.0,650.9 301.5,650.7 302.0,650.5 302.5,650.3 303.0,650.1 303.5,649.9 304.0,649.6 304.5,649.4 305.0,649.2 305.5,649.0 306.0,648.8 306.5,648.6 307.0,648.4 307.5,648.1 308.0,647.8 308.5,647.3 309.0,646.7 309.5,646.0 310.0,645.0 310.5,644.0 311.0,642.9 311.5,641.8 312.0,640.5 312.5,639.0 313.0,637.4 313.5,635.5 314.0,633.3 314.5,630.8 315.0,627.7 315.5,623.9 316.0,619.3 316.5,613.7 317.0,605.4 317.5,595.7 318.0,586.1 318.5,575.7 319.0,565.3 319.5,555.7 320.0,546.2 320.5,537.8 321.0,531.4 321.5,525.9 322.0,524.2 322.5,526.9 323.0,531.9 323.5,537.6 324.0,545.5 324.5,555.2 325.0,565.6 325.5,577.4 326.0,590.3 326.5,602.3 327.0,613.9 327.5,624.1 328.0,630.6 328.5,635.3 329.0,638.9 329.5,640.8 330.0,641.9 330.5,642.8 331.0,643.4 331.5,643.5 332.0,643.5 332.5,643.5 333.0,643.5 333.5,643.5 334.0,643.5 334.5,643.5 335.0,643.5 335.5,643.5 336.0,643.5 336.5,643.7 337.0,643.8 337.5,644.1 338.0,644.3 338.5,644.4 339.0,644.6 339.5,644.6 340.0,644.6 340.5,644.5 341.0,644.4 341.5,644.2 342.0,644.0 342.5,643.7 343.0,643.5 343.5,643.2 344.0,642.9 344.5,642.7 345.0,642.4 345.5,642.1 346.0,641.9 346.5,641.6 347.0,641.3 347.5,640.8 348.0,640.3 348.5,639.0 349.0,637.1 349.5,634.7 350.0,632.1 350.5,629.6 351.0,626.9 351.5,623.7 352.0,620.9 352.5,618.9 353.0,617.6 353.5,616.5 354.0,615.7 354.5,615.5 355.0,616.3 355.5,617.8 356.0,619.6 356.5,621.1 357.0,622.7 357.5,624.3 358.0,625.5 358.5,625.7 359.0,625.4 359.5,624.8 360.0,624.1 360.5,623.2 361.0,622.0 361.5,619.9 362.0,617.0 362.5,613.6 363.0,610.0 363.5,605.8 364.0,600.9 364.5,595.5 365.0,590.0 365.5,584.1 366.0,577.6 366.5,569.8 367.0,560.4 367.5,551.2 368.0,542.5 368.5,534.4 369.0,528.7 369.5,524.0 370.0,520.4 370.5,518.9 371.0,518.9 371.5,519.0 372.0,519.2 372.5,519.5 373.0,519.8 373.5,520.8 374.0,522.9 374.5,525.8 375.0,529.2 375.5,534.7 376.0,541.6 376.5,548.7 377.0,556.2 377.5,564.3 378.0,572.4 378.5,580.9 379.0,589.5 379.5,597.7 380.0,606.0 380.5,613.5 381.0,619.1 381.5,624.0 382.0,627.9 382.5,630.6 383.0,632.7 383.5,634.4 384.0,635.6 384.5,636.5 385.0,637.3 385.5,637.9 386.0,638.2 386.5,638.3 387.0,637.8 387.5,637.0 388.0,635.9 388.5,634.7 389.0,633.3 389.5,631.3 390.0,628.7 390.5,625.5 391.0,620.3 391.5,614.6 392.0,609.1 392.5,603.8 393.0,600.2 393.5,597.6 394.0,595.6 394.5,595.0 395.0,595.5 395.5,596.5 396.0,597.9 396.5,600.0 397.0,603.4 397.5,605.3 398.0,606.3 398.5,607.1 399.0,607.7 399.5,608.2 400.0,608.5 400.5,608.8 401.0,609.1 401.5,609.5 402.0,610.2 402.5,611.7 403.0,614.0 403.5,618.2 404.0,624.2 404.5,628.9 405.0,633.2 405.5,637.0 406.0,640.0 406.5,642.3 407.0,644.4 407.5,646.2 408.0,647.5 408.5,648.4 409.0,649.1 409.5,649.7 410.0,650.2 410.5,650.6 411.0,650.9 411.5,651.1 412.0,651.4 412.5,651.6 413.0,651.8 413.5,651.9 414.0,652.1 414.5,652.1 415.0,652.1 415.5,652.0 416.0,652.0 416.5,651.9 417.0,651.8 417.5,651.6 418.0,651.5 418.5,651.4 419.0,651.3 419.5,651.3 420.0,651.2 420.5,651.2 421.0,651.1 421.5,651.1 422.0,651.0 422.5,650.7 423.0,649.9 423.5,648.7 424.0,647.6 424.5,646.8 425.0,646.1 425.5,645.5 426.0,645.0 426.5,644.3 427.0,643.4 427.5,642.0 428.0,640.5 428.5,639.3 429.0,638.8 429.5,639.0 430.0,639.5 430.5,640.2 431.0,640.9 431.5,641.4 432.0,642.0 432.5,642.6 433.0,643.2 433.5,643.5 434.0,643.5 434.5,643.4 435.0,643.3 435.5,643.1 436.0,642.9 436.5,642.3 437.0,641.2 437.5,639.8 438.0,638.4 438.5,637.2 439.0,636.1 439.5,634.9 440.0,633.9 440.5,633.0 441.0,632.4 441.5,631.7 442.0,630.9 442.5,629.9 443.0,628.6 443.5,626.2 444.0,623.0 444.5,619.5 445.0,615.6 445.5,610.9 446.0,605.9 446.5,601.3 447.0,596.9 447.5,592.5 448.0,588.6 448.5,586.0 449.0,583.8 449.5,581.9 450.0,580.9 450.5,581.0 451.0,582.1 451.5,583.8 452.0,585.9 452.5,589.2 453.0,594.1 453.5,598.3 454.0,601.7 454.5,604.7 455.0,607.4 455.5,610.3 456.0,612.7 456.5,613.4 457.0,612.2 457.5,609.8 458.0,606.1 458.5,599.0 459.0,590.1 459.5,579.0 460.0,566.4 460.5,554.8 461.0,543.4 461.5,534.7 462.0,527.0 462.5,521.9 463.0,521.7 463.5,523.9 464.0,527.2 464.5,531.8 465.0,539.5 465.5,549.0 466.0,559.2 466.5,571.1 467.0,582.7 467.5,594.1 468.0,604.5 468.5,610.7 469.0,615.2 469.5,618.2 470.0,619.2 470.5,619.6 471.0,619.8 471.5,619.9 472.0,619.7 472.5,619.0 473.0,618.3 473.5,618.0 474.0,618.3 474.5,619.1 475.0,620.2 475.5,621.4 476.0,622.5 476.5,623.9 477.0,625.5 477.5,627.1 478.0,628.6 478.5,629.9 479.0,631.1 479.5,632.2 480.0,633.2 480.5,634.2 481.0,635.1 481.5,635.9 482.0,636.9 482.5,637.8 483.0,638.6 483.5,639.3 484.0,639.7 484.5,639.8 485.0,639.5 485.5,638.8 486.0,638.0 486.5,636.9 487.0,635.7 487.5,634.4 488.0,632.4 488.5,629.8 489.0,626.7 489.5,623.2 490.0,618.9 490.5,614.2 491.0,609.1 491.5,603.7 492.0,598.8 492.5,594.0 493.0,589.5 493.5,587.0 494.0,587.1 494.5,587.7 495.0,588.7 495.5,591.6 496.0,596.8 496.5,602.1 497.0,607.9 497.5,614.1 498.0,620.1 498.5,626.2 499.0,632.1 499.5,636.8 500.0,640.3 500.5,643.4 501.0,645.9 501.5,647.5 502.0,648.6 502.5,649.5 503.0,650.3 503.5,650.9 504.0,651.3 504.5,651.6 505.0,651.8 505.5,651.9 506.0,652.0 506.5,652.1 507.0,652.2 507.5,652.2 508.0,652.2 508.5,652.0 509.0,651.8 509.5,651.5 510.0,651.2 510.5,650.8 511.0,650.4" fill="none" stroke="#1c1ca8" stroke-width="2.3" stroke-linejoin="round" stroke-dasharray="3.7,3.7" clip-path="url(#cc)"/><rect x="222.1" y="29.8" width="288.9" height="288.7" fill="none" stroke="#111" stroke-width="1.6"/><rect x="222.3" y="373.8" width="288.7" height="287.8" fill="none" stroke="#111" stroke-width="1.6"/><line x1="222.3" y1="318.5" x2="222.3" y2="327.7" stroke="#111" stroke-width="1.6"/><text transform="translate(222.3 343.7) scale(1.1 1)" font-size="11" font-weight="bold" text-anchor="middle" fill="#000">400</text><line x1="290.1" y1="318.5" x2="290.1" y2="327.7" stroke="#111" stroke-width="1.6"/><text transform="translate(290.1 343.7) scale(1.1 1)" font-size="11" font-weight="bold" text-anchor="middle" fill="#000">500</text><line x1="357.8" y1="318.5" x2="357.8" y2="327.7" stroke="#111" stroke-width="1.6"/><text transform="translate(357.8 343.7) scale(1.1 1)" font-size="11" font-weight="bold" text-anchor="middle" fill="#000">600</text><line x1="425.6" y1="318.5" x2="425.6" y2="327.7" stroke="#111" stroke-width="1.6"/><text transform="translate(425.6 343.7) scale(1.1 1)" font-size="11" font-weight="bold" text-anchor="middle" fill="#000">700</text><line x1="493.3" y1="318.5" x2="493.3" y2="327.7" stroke="#111" stroke-width="1.6"/><text transform="translate(493.3 343.7) scale(1.1 1)" font-size="11" font-weight="bold" text-anchor="middle" fill="#000">800</text><line x1="243.2" y1="661.6" x2="243.2" y2="670.9" stroke="#111" stroke-width="1.6"/><text transform="translate(243.2 687.4) scale(1.1 1)" font-size="11" font-weight="bold" text-anchor="middle" fill="#000">1000</text><line x1="284.6" y1="661.6" x2="284.6" y2="670.9" stroke="#111" stroke-width="1.6"/><text transform="translate(284.6 687.4) scale(1.1 1)" font-size="11" font-weight="bold" text-anchor="middle" fill="#000">1100</text><line x1="325.9" y1="661.6" x2="325.9" y2="670.9" stroke="#111" stroke-width="1.6"/><text transform="translate(325.9 687.4) scale(1.1 1)" font-size="11" font-weight="bold" text-anchor="middle" fill="#000">1200</text><line x1="367.3" y1="661.6" x2="367.3" y2="670.9" stroke="#111" stroke-width="1.6"/><text transform="translate(367.3 687.4) scale(1.1 1)" font-size="11" font-weight="bold" text-anchor="middle" fill="#000">1300</text><line x1="408.7" y1="661.6" x2="408.7" y2="670.9" stroke="#111" stroke-width="1.6"/><text transform="translate(408.7 687.4) scale(1.1 1)" font-size="11" font-weight="bold" text-anchor="middle" fill="#000">1400</text><line x1="450.0" y1="661.6" x2="450.0" y2="670.9" stroke="#111" stroke-width="1.6"/><text transform="translate(450.0 687.4) scale(1.1 1)" font-size="11" font-weight="bold" text-anchor="middle" fill="#000">1500</text><line x1="491.4" y1="661.6" x2="491.4" y2="670.9" stroke="#111" stroke-width="1.6"/><text transform="translate(491.4 687.4) scale(1.1 1)" font-size="11" font-weight="bold" text-anchor="middle" fill="#000">1600</text><text x="294.3" y="359.8" font-size="12" font-weight="bold" fill="#000">Hyper-Raman Shift (cm<tspan font-size="8" dy="-9.5">-1</tspan><tspan dy="9.5">)</tspan></text><text x="294.6" y="706.0" font-size="12" font-weight="bold" fill="#000">Hyper-Raman Shift (cm<tspan font-size="8" dy="-9.5">-1</tspan><tspan dy="9.5">)</tspan></text><text transform="translate(213.6,173.7) rotate(-90)" x="0" y="0" font-size="12" font-weight="bold" text-anchor="middle" fill="#000">Normalized Intensity</text><text transform="translate(213.6,517.8) rotate(-90)" x="0" y="0" font-size="12" font-weight="bold" text-anchor="middle" fill="#000">Normalized Intensity</text><text transform="translate(231.5 45.7) scale(1.05 1)" font-size="11.5" font-weight="bold" fill="#000">S<tspan font-size="8" dy="3">2</tspan><tspan dy="-3">: 820 nm</tspan></text><text transform="translate(231.2 181.2) scale(1.05 1)" font-size="11.5" font-weight="bold" fill="#000">S<tspan font-size="8" dy="3">1</tspan><tspan dy="-3">: 1064 nm</tspan></text><text transform="translate(231.5 423.5) scale(1.05 1)" font-size="11.5" font-weight="bold" fill="#000">S<tspan font-size="8" dy="3">2</tspan><tspan dy="-3">: 820 nm</tspan></text><text transform="translate(229.8 543.2) scale(1.05 1)" font-size="11.5" font-weight="bold" fill="#000">S<tspan font-size="8" dy="3">1</tspan><tspan dy="-3">: 1064 nm</tspan></text><line x1="432.9" y1="43.7" x2="456" y2="43.7" stroke="#b81a22" stroke-width="2.1"/><text transform="translate(461.3 47.7) scale(1.04 1)" font-size="12" font-weight="bold" text-anchor="start" fill="#000">R6G-d0</text><line x1="432.9" y1="58.1" x2="456" y2="58.1" stroke="#15159a" stroke-width="2.1"/><text transform="translate(461.6 61.8) scale(1.04 1)" font-size="12" font-weight="bold" text-anchor="start" fill="#000">R6G-d4</text><line x1="229.5" y1="383.9" x2="252.8" y2="383.9" stroke="#b81a22" stroke-width="2.1"/><text transform="translate(258.4 387.7) scale(1.05 1)" font-size="11.4" font-weight="bold" text-anchor="start" fill="#000">R6G-d0</text><line x1="229.6" y1="398.1" x2="249.4" y2="398.1" stroke="#12128a" stroke-width="2.2" stroke-dasharray="4,3.6"/><text transform="translate(258.4 401.7) scale(1.05 1)" font-size="11.4" font-weight="bold" text-anchor="start" fill="#000">R6G-d4</text><text transform="translate(222.4 22.5) scale(1.1 1)" font-size="20.5" font-weight="bold" fill="#000">(<tspan font-size="18.6">b</tspan>)</text><text transform="translate(221.6 364.8) scale(1.1 1)" font-size="20.5" font-weight="bold" fill="#000">(<tspan font-size="18.6">c</tspan>)</text><text transform="translate(6.2 190.5) scale(1.1 1)" font-size="20.5" font-weight="bold" fill="#000">(<tspan font-size="18.6">a</tspan>)</text><text transform="translate(54.8 190.6) scale(1.08 1)" font-size="19.8" font-weight="bold" text-anchor="start" fill="#e3141b">R6G-d0</text><text transform="translate(54.8 350.2) scale(1.08 1)" font-size="19.8" font-weight="bold" text-anchor="start" fill="#1414d2">R6G-d4</text><g stroke="#000" stroke-width="1.9" stroke-linecap="round"><line x1="96.50" y1="218.60" x2="111.05" y2="227.00"/><line x1="111.05" y1="227.00" x2="111.05" y2="243.80"/><line x1="111.05" y1="243.80" x2="96.50" y2="252.20"/><line x1="96.50" y1="252.20" x2="81.95" y2="243.80"/><line x1="81.95" y1="243.80" x2="81.95" y2="227.00"/><line x1="81.95" y1="227.00" x2="96.50" y2="218.60"/><line x1="86.45" y1="230.30" x2="86.45" y2="240.50"/><line x1="97.11" y1="224.15" x2="105.94" y2="229.25"/><line x1="105.94" y1="241.55" x2="97.11" y2="246.65"/><line x1="67.40" y1="279.30" x2="81.95" y2="287.70"/><line x1="125.60" y1="279.30" x2="140.15" y2="287.70"/><line x1="81.95" y1="287.70" x2="81.95" y2="304.50"/><line x1="140.15" y1="287.70" x2="140.15" y2="304.50"/><line x1="81.95" y1="304.50" x2="67.40" y2="312.90"/><line x1="140.15" y1="304.50" x2="125.60" y2="312.90"/><line x1="67.40" y1="312.90" x2="52.85" y2="304.50"/><line x1="125.60" y1="312.90" x2="111.05" y2="304.50"/><line x1="52.85" y1="304.50" x2="52.85" y2="287.70"/><line x1="111.05" y1="304.50" x2="111.05" y2="287.70"/><line x1="52.85" y1="287.70" x2="67.40" y2="279.30"/><line x1="111.05" y1="287.70" x2="125.60" y2="279.30"/><line x1="81.95" y1="287.70" x2="96.50" y2="279.30"/><line x1="96.50" y1="279.30" x2="111.05" y2="287.70"/><line x1="81.95" y1="304.50" x2="91.48" y2="310.00"/><line x1="101.52" y1="310.00" x2="111.05" y2="304.50"/><line x1="97.11" y1="284.85" x2="105.94" y2="289.95"/><line x1="57.96" y1="289.95" x2="66.79" y2="284.85"/><line x1="77.45" y1="291.00" x2="77.45" y2="301.20"/><line x1="66.79" y1="307.35" x2="57.96" y2="302.25"/><line x1="126.21" y1="284.85" x2="135.04" y2="289.95"/><line x1="116.16" y1="302.25" x2="124.99" y2="307.35"/><line x1="96.50" y1="252.20" x2="96.50" y2="279.30"/><line x1="81.95" y1="243.80" x2="67.40" y2="252.20"/><line x1="65.10" y1="252.20" x2="65.10" y2="262.70"/><line x1="69.70" y1="252.20" x2="69.70" y2="262.70"/><line x1="67.40" y1="252.20" x2="57.96" y2="246.75"/><line x1="47.74" y1="246.75" x2="38.30" y2="252.20"/><line x1="38.30" y1="252.20" x2="23.75" y2="243.80"/><line x1="52.85" y1="287.70" x2="38.30" y2="279.30"/><line x1="140.15" y1="287.70" x2="154.70" y2="279.30"/><line x1="52.85" y1="304.50" x2="44.88" y2="309.10"/><line x1="31.72" y1="309.10" x2="23.75" y2="304.50"/><line x1="23.75" y1="304.50" x2="9.20" y2="312.90"/><line x1="140.15" y1="304.50" x2="148.12" y2="309.10"/><line x1="145.12" y1="302.29" x2="150.84" y2="305.59"/><line x1="161.28" y1="309.10" x2="169.25" y2="304.50"/><line x1="169.25" y1="304.50" x2="183.80" y2="312.90"/><line x1="96.50" y1="218.60" x2="96.50" y2="214.10"/><line x1="81.95" y1="227.00" x2="78.05" y2="224.75"/><line x1="111.05" y1="227.00" x2="114.95" y2="224.75"/><line x1="111.05" y1="243.80" x2="114.95" y2="246.05"/><line x1="150.60" y1="332.00" x2="154.80" y2="332.00" stroke-width="1.5"/><line x1="152.70" y1="329.90" x2="152.70" y2="334.10" stroke-width="1.5"/></g><g fill="#000" stroke="#000" stroke-width="0.3" font-weight="normal"><text x="96.50" y="212.30" font-size="12" text-anchor="middle">H</text><text x="72.55" y="225.30" font-size="12" text-anchor="middle">H</text><text x="120.65" y="225.70" font-size="12" text-anchor="middle">H</text><text x="120.65" y="253.70" font-size="12" text-anchor="middle">H</text><text x="67.10" y="273.30" font-size="12" text-anchor="middle">O</text><text x="52.55" y="248.40" font-size="12" text-anchor="middle">O</text><text x="96.30" y="316.90" font-size="12" text-anchor="middle">O</text><text x="38.20" y="316.90" font-size="12" text-anchor="middle">N</text><text x="38.20" y="328.40" font-size="12" text-anchor="middle">H</text><text x="154.40" y="317.30" font-size="12" text-anchor="middle">N</text><text x="154.40" y="327.90" font-size="12" text-anchor="middle">H</text></g><g stroke="#000" stroke-width="1.9" stroke-linecap="round"><line x1="96.50" y1="373.60" x2="111.05" y2="382.00"/><line x1="111.05" y1="382.00" x2="111.05" y2="398.80"/><line x1="111.05" y1="398.80" x2="96.50" y2="407.20"/><line x1="96.50" y1="407.20" x2="81.95" y2="398.80"/><line x1="81.95" y1="398.80" x2="81.95" y2="382.00"/><line x1="81.95" y1="382.00" x2="96.50" y2="373.60"/><line x1="86.45" y1="385.30" x2="86.45" y2="395.50"/><line x1="97.11" y1="379.15" x2="105.94" y2="384.25"/><line x1="105.94" y1="396.55" x2="97.11" y2="401.65"/><line x1="67.40" y1="434.30" x2="81.95" y2="442.70"/><line x1="125.60" y1="434.30" x2="140.15" y2="442.70"/><line x1="81.95" y1="442.70" x2="81.95" y2="459.50"/><line x1="140.15" y1="442.70" x2="140.15" y2="459.50"/><line x1="81.95" y1="459.50" x2="67.40" y2="467.90"/><line x1="140.15" y1="459.50" x2="125.60" y2="467.90"/><line x1="67.40" y1="467.90" x2="52.85" y2="459.50"/><line x1="125.60" y1="467.90" x2="111.05" y2="459.50"/><line x1="52.85" y1="459.50" x2="52.85" y2="442.70"/><line x1="111.05" y1="459.50" x2="111.05" y2="442.70"/><line x1="52.85" y1="442.70" x2="67.40" y2="434.30"/><line x1="111.05" y1="442.70" x2="125.60" y2="434.30"/><line x1="81.95" y1="442.70" x2="96.50" y2="434.30"/><line x1="96.50" y1="434.30" x2="111.05" y2="442.70"/><line x1="81.95" y1="459.50" x2="91.48" y2="465.00"/><line x1="101.52" y1="465.00" x2="111.05" y2="459.50"/><line x1="97.11" y1="439.85" x2="105.94" y2="444.95"/><line x1="57.96" y1="444.95" x2="66.79" y2="439.85"/><line x1="77.45" y1="446.00" x2="77.45" y2="456.20"/><line x1="66.79" y1="462.35" x2="57.96" y2="457.25"/><line x1="126.21" y1="439.85" x2="135.04" y2="444.95"/><line x1="116.16" y1="457.25" x2="124.99" y2="462.35"/><line x1="96.50" y1="407.20" x2="96.50" y2="434.30"/><line x1="81.95" y1="398.80" x2="67.40" y2="407.20"/><line x1="65.10" y1="407.20" x2="65.10" y2="417.70"/><line x1="69.70" y1="407.20" x2="69.70" y2="417.70"/><line x1="67.40" y1="407.20" x2="57.96" y2="401.75"/><line x1="47.74" y1="401.75" x2="38.30" y2="407.20"/><line x1="38.30" y1="407.20" x2="23.75" y2="398.80"/><line x1="52.85" y1="442.70" x2="38.30" y2="434.30"/><line x1="140.15" y1="442.70" x2="154.70" y2="434.30"/><line x1="52.85" y1="459.50" x2="44.88" y2="464.10"/><line x1="31.72" y1="464.10" x2="23.75" y2="459.50"/><line x1="23.75" y1="459.50" x2="9.20" y2="467.90"/><line x1="140.15" y1="459.50" x2="148.12" y2="464.10"/><line x1="145.12" y1="457.29" x2="150.84" y2="460.59"/><line x1="161.28" y1="464.10" x2="169.25" y2="459.50"/><line x1="169.25" y1="459.50" x2="183.80" y2="467.90"/><line x1="96.50" y1="373.60" x2="96.50" y2="369.10"/><line x1="81.95" y1="382.00" x2="78.05" y2="379.75"/><line x1="111.05" y1="382.00" x2="114.95" y2="379.75"/><line x1="111.05" y1="398.80" x2="114.95" y2="401.05"/><line x1="150.60" y1="487.00" x2="154.80" y2="487.00" stroke-width="1.5"/><line x1="152.70" y1="484.90" x2="152.70" y2="489.10" stroke-width="1.5"/></g><g fill="#000" stroke="#000" stroke-width="0.3" font-weight="normal"><text x="96.50" y="367.30" font-size="12" text-anchor="middle">D</text><text x="72.55" y="380.30" font-size="12" text-anchor="middle">D</text><text x="120.65" y="380.70" font-size="12" text-anchor="middle">D</text><text x="120.65" y="408.70" font-size="12" text-anchor="middle">D</text><text x="67.10" y="428.30" font-size="12" text-anchor="middle">O</text><text x="52.55" y="403.40" font-size="12" text-anchor="middle">O</text><text x="96.30" y="471.90" font-size="12" text-anchor="middle">O</text><text x="38.20" y="471.90" font-size="12" text-anchor="middle">N</text><text x="38.20" y="483.40" font-size="12" text-anchor="middle">H</text><text x="154.40" y="472.30" font-size="12" text-anchor="middle">N</text><text x="154.40" y="482.90" font-size="12" text-anchor="middle">H</text></g>
</svg></body></html>
